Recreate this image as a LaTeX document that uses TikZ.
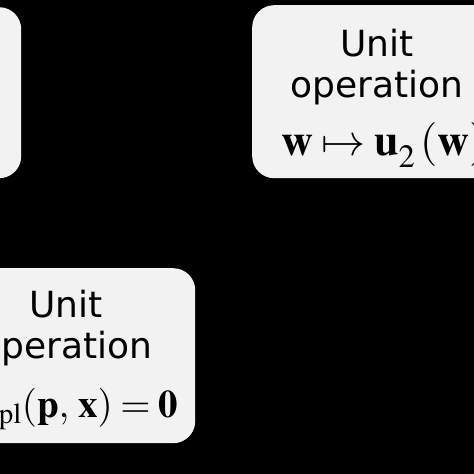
\documentclass[tikz,border=0pt]{standalone}
\usepackage{mathptmx}
\usepackage[no-math]{fontspec}
\newfontfamily\uosans{DejaVu Sans}
\definecolor{boxfill}{HTML}{F2F2F2}
\tikzset{
  opbox/.style={fill=boxfill, draw=none, rounded corners=22pt, inner sep=0pt, anchor=north west},
  optext/.style={font=\uosans\fontsize{36}{42}\selectfont, text=black, inner sep=0pt, anchor=base},
  opmath/.style={font=\fontsize{44}{50}\selectfont, text=black, inner sep=0pt},
  opmathsm/.style={font=\fontsize{39}{45}\selectfont, text=black, inner sep=0pt}
}
\newcommand{\lowsub}[1]{_{\lower6pt\hbox{$\scriptstyle #1$}}}
\begin{document}
\begin{tikzpicture}[x=1pt,y=-1pt]
\fill[black] (0,0) rectangle (474,474);
\useasboundingbox (0,0) rectangle (474,474);
% boxes
\node[opbox, minimum width=270pt, minimum height=171pt] (boxA) at (-249,7) {};
\node[opbox, minimum width=252pt, minimum height=173pt] (boxB) at (252,5) {};
\node[opbox, minimum width=265pt, minimum height=175pt] (boxC) at (-70,268) {};
% top right texts
\node[optext] (b1) at (377,56) {Unit};
\node[optext] (b2) at (377,97) {operation};
\node[opmath, anchor=base west] (b3) at (281,155) {\thickmuskip=3.5mu $\mathbf{w}\mapsto\mathbf{u}\lowsub{2}\,(\mathbf{w})$};
% bottom texts
\node[optext] (c1) at (66,317) {Unit};
\node[optext] (c2) at (66,358) {operation};
\node[opmathsm, anchor=base east] (c3) at (178,417) {\thickmuskip=3.5mu $\mathbf{h}_{\mathrm{pl}}(\mathbf{p},\,\mathbf{x})=\mathbf{0}$};
\end{tikzpicture}
\end{document}
